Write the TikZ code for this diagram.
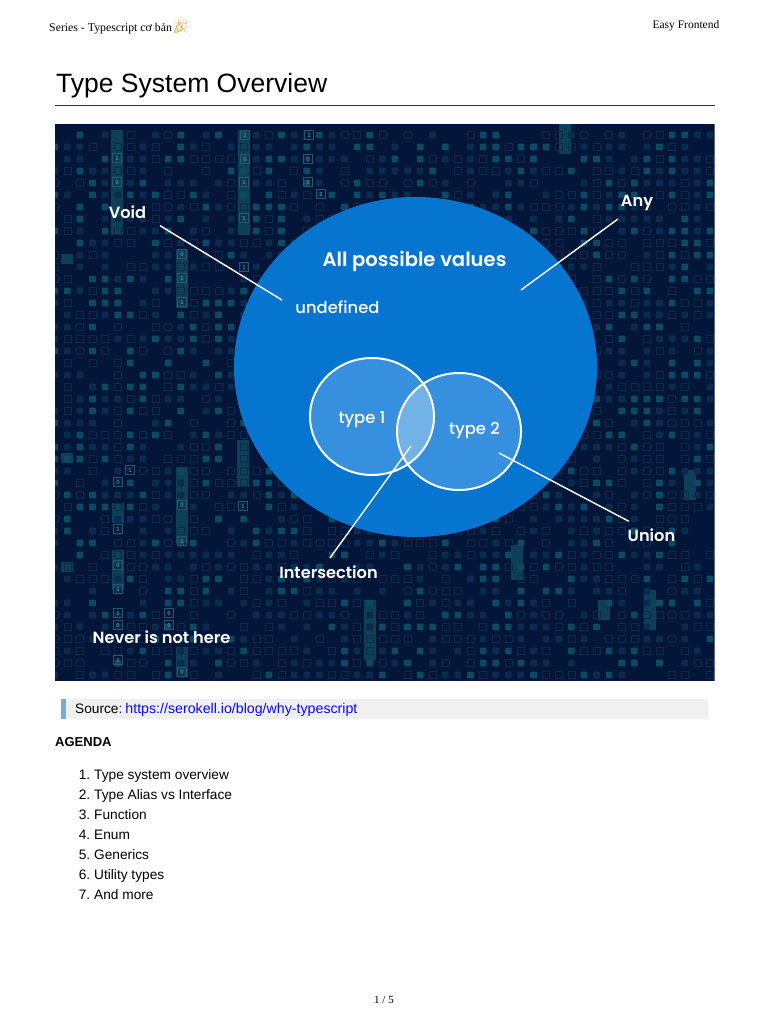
\documentclass[tikz,border=0pt]{standalone}
\usepackage{fontspec}
\setmainfont{Liberation Sans}
\newfontfamily\headfont{Liberation Serif}
\newfontfamily\diagfont{Poppins Medium}[BoldFont={Poppins SemiBold}]
\newfontfamily\emojifont{Noto Emoji}
\definecolor{bgnavy}{HTML}{03163A}
\definecolor{celllit}{HTML}{0C4A63}
\definecolor{celldim}{HTML}{0A2B4E}
\definecolor{cellline}{HTML}{0C2A4C}
\definecolor{boxline}{HTML}{28566E}
\definecolor{bitgray}{HTML}{4A8095}
\definecolor{streak}{HTML}{0E3F59}
\definecolor{bigblue}{HTML}{0575D0}
\definecolor{typeblue}{HTML}{3690DE}
\definecolor{crossblue}{HTML}{72B2E6}
\definecolor{notegray}{HTML}{F0F0F0}
\definecolor{notebar}{HTML}{6FB0E0}
\definecolor{linkblue}{HTML}{0A0AF0}
\definecolor{popper}{HTML}{D9A23B}
\tikzset{
  label/.style={inner sep=0pt,text=white,font=\diagfont\bfseries\fontsize{16.2}{16}\selectfont},
  inlabel/.style={inner sep=0pt,text=white,font=\diagfont\fontsize{16.4}{16}\selectfont},
  body/.style={inner sep=0pt,anchor=base west,font=\fontsize{13.7}{14}\selectfont},
  pointer/.style={draw=white,line width=1.4pt},
  typering/.style={draw=white,line width=2pt},
  digitbox/.style={draw=boxline,line width=.5pt,minimum size=9pt,inner sep=0pt,text=bitgray,font=\fontsize{6}{6}\selectfont\bfseries}
}
\begin{document}
\begin{tikzpicture}[x=1pt,y=-1pt]
\useasboundingbox (0,0) rectangle (768,1024);
\fill[white] (0,0) rectangle (768,1024);

\node[inner sep=0pt,anchor=base west,font=\headfont\fontsize{11.8}{12}\selectfont] (series) at (49,32) {Series - Typescript cơ bản{\emojifont\fontsize{14}{14}\selectfont\color{popper}🎉}};
\node[inner sep=0pt,anchor=base east,font=\headfont\fontsize{11.5}{12}\selectfont] (site) at (719.5,28.5) {Easy Frontend};
\node[inner sep=0pt,anchor=base west,font=\fontsize{26.5}{27}\selectfont] (title) at (56,93) {Type System Overview};
\draw[line width=1pt,black!80] (55,106) -- (714.5,106);

\begin{scope}
\clip (55,124) rectangle (714.5,680.5);
\fill[bgnavy] (55,124) rectangle (714.5,680.5);
\foreach \sx/\sy/\sh in {117/130/105,244/130/105,182/250/58,67/254/10,118/503/20,118/550/40,182/467/76,182/647/30,243/440/47,67/562/10,67/453/10,565/124/30,517/545/35,370/600/60,604/600/20,650/590/40,690/470/30}
  \fill[streak] (\sx-6,\sy) rectangle (\sx+6,\sy+\sh);
\pgfmathsetseed{4711}
\foreach \col in {0,...,52} {
  \foreach \row in {0,...,45} {
    \pgfmathsetmacro{\cx}{54.7+12.6*\col}
    \pgfmathsetmacro{\cy}{135+12*\row}
    \pgfmathsetmacro{\pick}{rnd}
    \ifdim\pick pt<0.22pt
      \fill[celllit,rounded corners=.8pt] (\cx-3.3,\cy-3.3) rectangle (\cx+3.3,\cy+3.3);
    \else\ifdim\pick pt<0.5pt
      \fill[celldim,rounded corners=.8pt] (\cx-3.3,\cy-3.3) rectangle (\cx+3.3,\cy+3.3);
    \else\ifdim\pick pt<0.8pt
      \draw[cellline,line width=.6pt] (\cx-3.5,\cy-3.5) rectangle (\cx+3.5,\cy+3.5);
    \fi\fi\fi
  }
}
\foreach \bx/\by/\bitval [count=\i] in {245/135/1,309/135/1,117/158/1,245/159/0,308/159/0,117/182/0,244/182/1,308/182/1,321/194/1,244/218/1,182/254/0,182/278/1,182/302/1,244/267/1,130/470/1,182/505/0,118/482/0,243/506/1,182/541/1,118/529/1,118/565/0,118/589/1,118/613/1,118/625/0,169/613/0,169/625/0,182/672/0,118/660/1}
  \node[digitbox] (bit\i) at (\bx,\by) {\bitval};
\end{scope}

\fill[bigblue] (415.5,367) ellipse [x radius=181.5, y radius=170];
\coordinate (one) at (372,416.5);
\coordinate (two) at (459,431.5);
\fill[typeblue] (one) ellipse [x radius=62, y radius=58.5];
\fill[typeblue] (two) ellipse [x radius=62, y radius=58.5];
\begin{scope}
\clip (one) ellipse [x radius=62, y radius=58.5];
\fill[crossblue] (two) ellipse [x radius=62, y radius=58.5];
\end{scope}
\draw[typering] (one) ellipse [x radius=62, y radius=58.5];
\draw[typering] (two) ellipse [x radius=62, y radius=58.5];

\node[inner sep=0pt,text=white,font=\diagfont\bfseries\fontsize{19.6}{20}\selectfont] (all) at (414.5,261) {All possible values};
\node[inlabel] (undefined) at (337.5,307) {undefined};
\node[inlabel] (type1) at (362,419.5) {type 1};
\node[inlabel] (type2) at (474.5,430.5) {type 2};
\node[label] (void) at (127.5,212.5) {Void};
\node[label] (any) at (637,202.5) {Any};
\node[label] (union) at (651.5,535) {Union};
\node[label] (intersection) at (328.5,572.5) {Intersection};
\node[label] (never) at (161.5,637) {Never is not here};

\coordinate (voidend) at (282,300);
\coordinate (anyend) at (521,290);
\coordinate (crossend) at (411,446);
\coordinate (unionend) at (499,453);
\draw[pointer] (void.south)++(32.5,6.5) -- (voidend);
\draw[pointer] (any.south)++(-19,8.5) -- (anyend);
\draw[pointer] (intersection.north)++(1.5,-8) -- (crossend);
\draw[pointer] (union.north)++(-22.5,-7) -- (unionend);

\fill[notegray] (61,698.5) rectangle (707.5,718.5);
\fill[notebar] (61,698.5) rectangle (65.5,718.5);
\node[body] (source) at (75,713) {Source:\hspace{3pt}{\fontsize{14.2}{14}\selectfont\textcolor{linkblue}{https://serokell.io/blog/why-typescript}}};
\node[body,font=\bfseries\fontsize{13}{13}\selectfont] (agenda) at (55,746) {AGENDA};
\foreach \num/\entry in {1/Type system overview,2/Type Alias vs Interface,3/Function,4/Enum,5/Generics,6/Utility types,7/And more} {
  \pgfmathsetmacro{\liney}{759+20*\num}
  \node[body,anchor=base east] (num\num) at (90.5,\liney) {\num.};
  \node[body] (entry\num) at (94,\liney) {\entry};
}
\node[inner sep=0pt,anchor=base,font=\headfont\fontsize{11}{11}\selectfont] (page) at (384,1003) {1 / 5};
\end{tikzpicture}
\end{document}
